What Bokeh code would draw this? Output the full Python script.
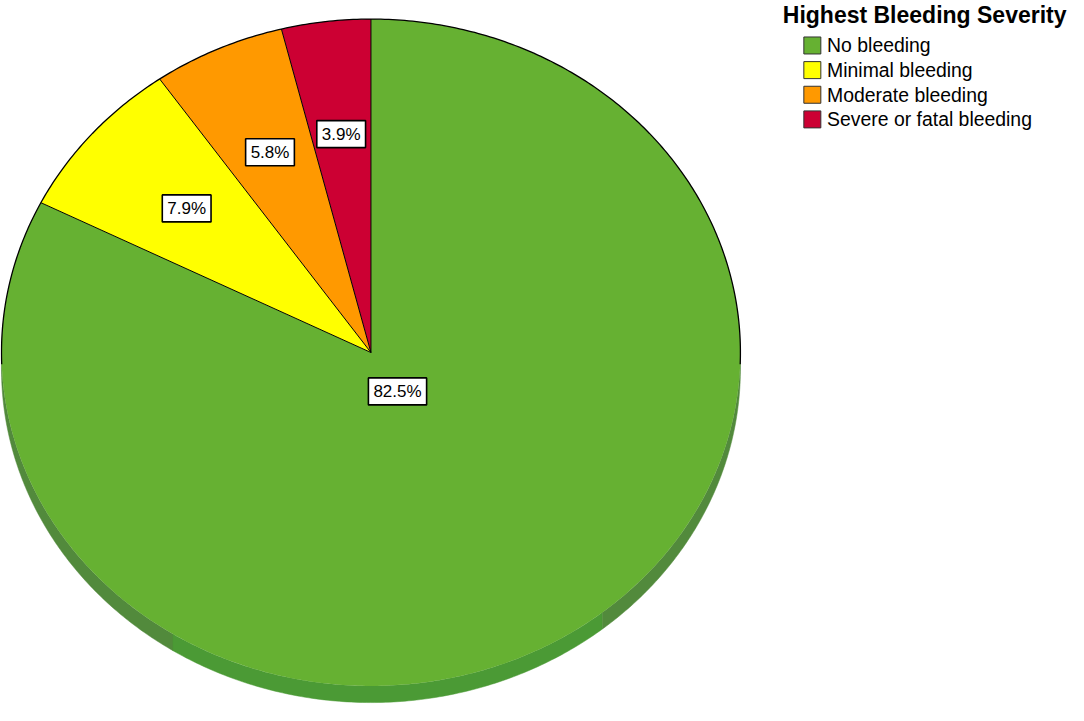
import numpy as np
from bokeh.plotting import figure
from bokeh.models import Range1d
from bokeh.embed import file_html
from bokeh.resources import INLINE
from bokeh.core.properties import value

# ---- data ----
categories = ["No bleeding", "Minimal bleeding", "Moderate bleeding", "Severe or fatal bleeding"]
percent = [82.5, 7.9, 5.8, 3.9]
colors = ["#66B132", "#FFFF00", "#FF9900", "#CC0033"]
legend_title = "Highest Bleeding Severity"

# ---- geometry / style (reference pixel space) ----
REF_W, REF_H = 1084, 721
W, H = 1068, 705
CX, CY, A, B, DEPTH = 376.0, 360.0, 375.0, 341.0, 17.0
LABEL_R = [0.137, 0.66, 0.66, 0.66]
FONT = value("Liberation Sans")

p = figure(width=W, height=H, x_range=Range1d(0, REF_W), y_range=Range1d(REF_H, 0),
           output_backend="svg", toolbar_location=None, min_border=0,
           x_axis_type=None, y_axis_type=None)
p.grid.visible = False
p.outline_line_color = None
p.background_fill_color = "white"


def ell(t_deg, dy=0.0):
    t = np.radians(t_deg)
    return CX + A * np.cos(t), CY - B * np.sin(t) + dy


# side band (front half), shaded segments
side_segments = [(180, 237.6, "#528A3C"), (237.6, 308.8, "#4B9A35"), (308.8, 360, "#528A3C")]
for t0, t1, col in side_segments:
    ts = np.linspace(t0, t1, 120)
    xt, yt = ell(ts)
    xb, yb = ell(ts[::-1], DEPTH)
    p.patch(np.concatenate([xt, xb]), np.concatenate([yt, yb]),
            fill_color=col, line_color=col, line_width=0.5)

# top face slices: clockwise from 12 o'clock
total = float(sum(percent))
start = 90.0
bounds = []
mids = []
for pct, col in zip(percent, colors):
    end = start - pct / total * 360.0
    ts = np.linspace(start, end, max(int(pct * 6), 20))
    xs, ys = ell(ts)
    p.patch(np.concatenate([[CX], xs]), np.concatenate([[CY], ys]),
            fill_color=col, line_color=None)
    bounds.append(start)
    mids.append((start + end) / 2)
    start = end

# radial separators
for b in bounds:
    x1, y1 = ell(b)
    p.line([CX, x1], [CY, y1], line_color="black", line_width=1)

# upper rim outline
ts = np.linspace(-2, 182, 300)
xs, ys = ell(ts)
p.line(xs, ys, line_color="black", line_width=1.3)

# percentage labels
lx, ly, lt = [], [], []
for pct, m, r in zip(percent, mids, LABEL_R):
    t = np.radians(m)
    lx.append(CX + r * A * np.cos(t))
    ly.append(CY - r * B * np.sin(t))
    lt.append(f"{pct:.1f}%")
p.text(lx, ly, text=lt, text_font=FONT, text_font_size="17px", text_color="black",
       text_align="center", text_baseline="middle",
       background_fill_color="white", border_line_color="black", border_line_width=1.6,
       padding=(5, 4))

# legend
p.text([1082], [15], text=[legend_title], text_font=FONT, text_font_size="23px",
       text_font_style="bold", text_align="right", text_baseline="middle", text_color="black")
leg_y = [46 + 25.2 * i for i in range(len(categories))]
p.rect([824] * len(categories), leg_y, width=17, height=17,
       width_units="screen", height_units="screen",
       fill_color=colors, line_color="#333333", line_width=1)
p.text([839] * len(categories), leg_y, text=categories, text_font=FONT,
       text_font_size="19.4px", text_align="left", text_baseline="middle", text_color="black")

open("out.html", "w").write(file_html(p, INLINE))
